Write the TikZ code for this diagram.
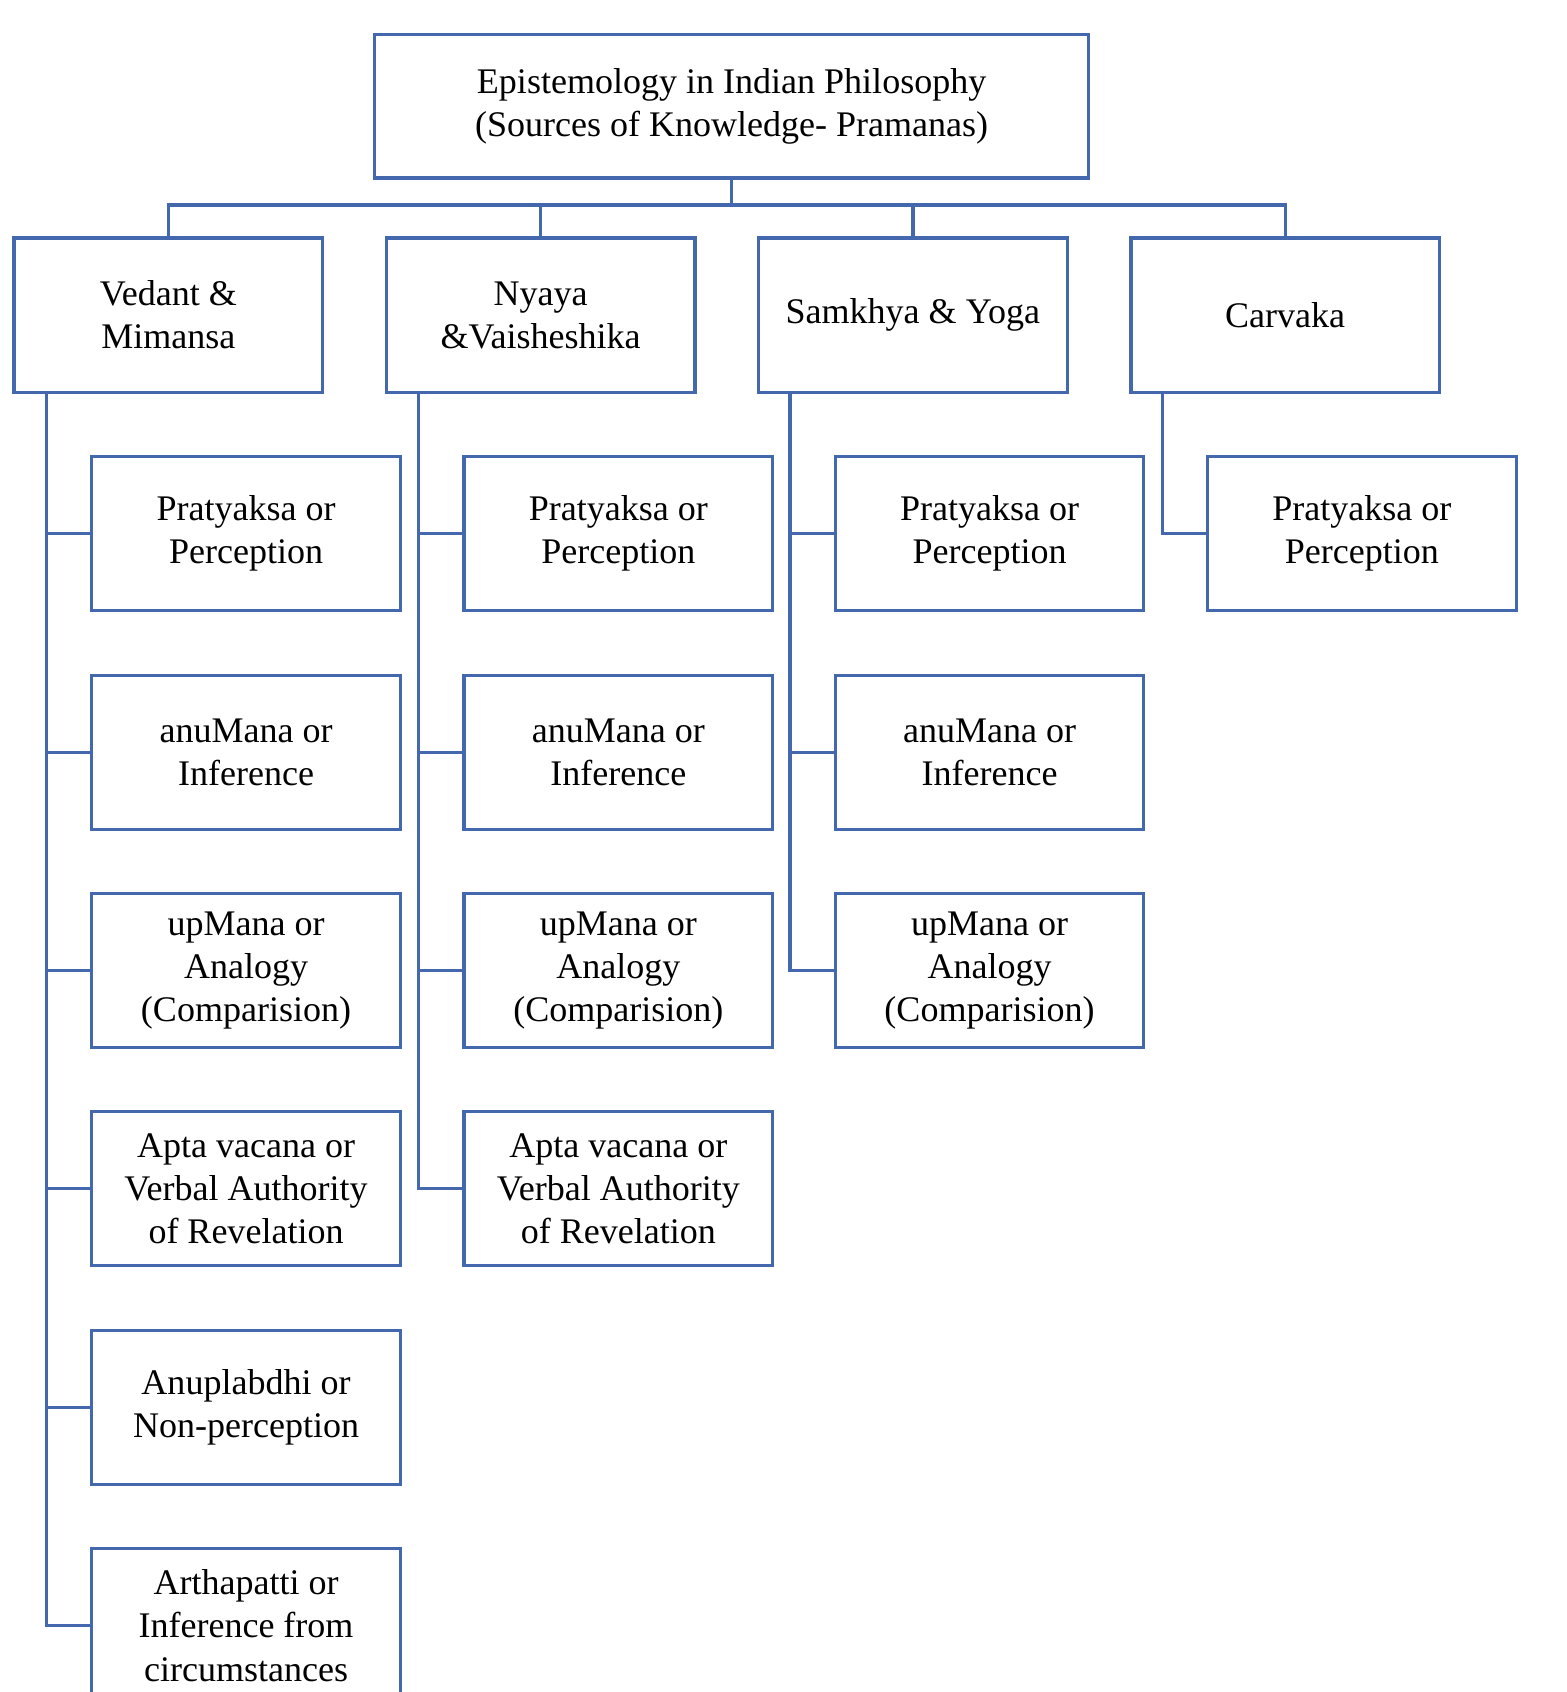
\documentclass[tikz,border=0pt]{standalone}
\usepackage{fontspec}
\setmainfont{Liberation Serif}
\begin{document}
\begin{tikzpicture}[x=0.02cm,y=-0.02cm,
  bx/.style={draw=bl,line width=1.7pt,minimum width=286*0.02cm,minimum height=143*0.02cm,align=center,inner sep=1pt,font=\fontsize{19}{22.7}\selectfont},
  ln/.style={draw=bl,line width=1.7pt}]
\definecolor{bl}{HTML}{4468AD}
\useasboundingbox (0,0) rectangle (1452,1568);
\clip (0,0) rectangle (1452,1568);
\node[bx,minimum width=662*0.02cm,minimum height=133*0.02cm] (top) at (678,98.5) {Epistemology in Indian Philosophy\\(Sources of Knowledge- Pramanas)};
\node[bx] (a) at (156,292) {Vedant \&\\Mimansa};
\node[bx] (b) at (501,292) {Nyaya\\\&Vaisheshika};
\node[bx] (c) at (846,292) {Samkhya \& Yoga};
\node[bx] (d) at (1191,292) {Carvaka};
\coordinate (bus) at (678,190);
\foreach \n in {a,b,c,d} \draw[ln] (top.south) |- (\n.north |- bus) -- (\n.north);
\def\rowy{{494.5,697.5,899.5,1101.5,1304.5,1506.5}}
\foreach \n/\x/\k in {a/43/6,b/388/4,c/732/3,d/1077/1}{
  \foreach \i in {1,...,\k}{
    \pgfmathsetmacro\yy{\rowy[\i-1]}
    \node[bx] (\n\i) at (\x+185,\yy) {};
    \draw[ln] (\x,363) |- (\n\i.west);
  }
}
\foreach \n in {a,b,c,d} \node[bx,draw=none] at (\n1) {Pratyaksa or\\Perception};
\foreach \n in {a,b,c} {\node[bx,draw=none] at (\n2) {anuMana or\\Inference};
  \node[bx,draw=none] at (\n3) {upMana or\\Analogy\\(Comparision)};}
\foreach \n in {a,b} \node[bx,draw=none] at (\n4) {Apta vacana or\\Verbal Authority\\of Revelation};
\node[bx,draw=none] at (a5) {Anuplabdhi or\\Non-perception};
\node[bx,draw=none] at (a6) {Arthapatti or\\Inference from\\circumstances};
\end{tikzpicture}
\end{document}
